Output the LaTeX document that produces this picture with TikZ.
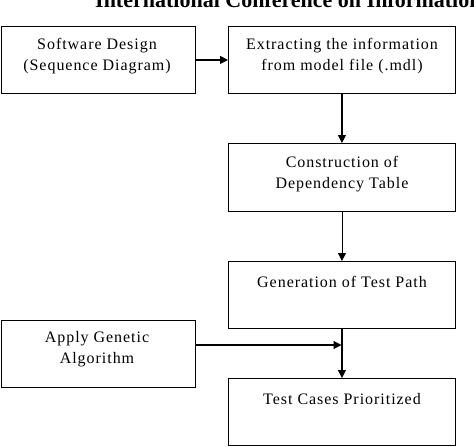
\documentclass[tikz,border=0pt]{standalone}
\usepackage{fontspec}
\setmainfont{Liberation Serif}
\newfontfamily\boxfont[LetterSpace=6]{Liberation Serif}
\usetikzlibrary{arrows.meta,calc}
\tikzset{
  box/.style={draw,line width=0.9pt,inner sep=0pt,anchor=north west},
  lbl/.style={align=center,inner sep=0pt,font=\boxfont\fontsize{16}{21}\selectfont},
  arr/.style={line width=1.2pt,-{Triangle[length=8pt,width=8pt]}},
}
\begin{document}
\begin{tikzpicture}[x=1pt,y=1pt]
\useasboundingbox (0,0) rectangle (474,-447);
\clip (0,0) rectangle (474,-447);
\node[anchor=base west,inner sep=0pt,font=\fontsize{22}{24}\bfseries\selectfont] (title) at (95,-7.5) {International Conference on Information};
\node[box,minimum width=194.5pt,minimum height=67pt] (b1) at (0.5,-26) {};
\node[box,minimum width=227pt,minimum height=67pt] (b2) at (228,-26) {};
\node[box,minimum width=227pt,minimum height=68pt] (b3) at (228,-143) {};
\node[box,minimum width=227pt,minimum height=67pt] (b4) at (228,-261) {};
\node[box,minimum width=194.5pt,minimum height=67pt] (b5) at (0.5,-320) {};
\node[box,minimum width=227pt,minimum height=67pt] (b6) at (228,-378) {};
\node[lbl] (t1) at (97,-56) {Software Design\\(Sequence Diagram)};
\node[lbl] (t2) at (342,-56) {Extracting the information\\from model file (.mdl)};
\node[lbl] (t3) at (342,-174) {Construction of\\Dependency Table};
\node[lbl] (t4) at (342,-282) {Generation of Test Path};
\node[lbl] (t5) at (97,-349) {Apply Genetic\\Algorithm};
\node[lbl] (t6) at (342,-399) {Test Cases Prioritized};
\draw[arr] (b1.east) -- (b2.west);
\draw[arr] (b2.south) -- (b3.north);
\draw[arr,line width=0.9pt] (b3.south) -- (b4.north);
\draw[arr] (b4.south) -- (b6.north);
\coordinate (j) at (341.5,-345);
\draw[arr] (b5.east |- j) -- (j);
\end{tikzpicture}
\end{document}
